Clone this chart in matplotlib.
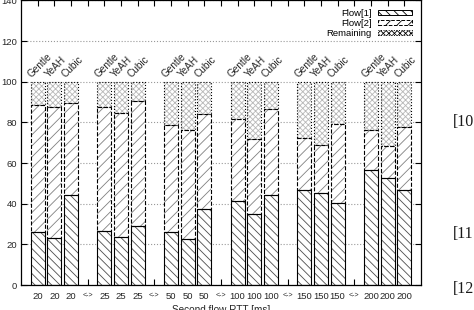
import matplotlib.pyplot as plt
from matplotlib.patches import Patch

plt.rcParams['font.family'] = ['Liberation Sans', 'DejaVu Sans']
plt.rcParams['hatch.linewidth'] = 0.6

rtts = ["20", "25", "50", "100", "150", "200"]
algos = ["Gentle", "YeAH", "Cubic"]

# share of link capacity (%), one row per RTT group, columns Gentle/YeAH/Cubic
flow1 = [
    [26.0, 23.1, 44.5],
    [26.8, 23.6, 29.1],
    [25.9, 22.6, 37.5],
    [41.1, 35.0, 44.1],
    [46.9, 45.4, 40.4],
    [56.8, 52.7, 46.7],
]
# top of flow[2] (flow1 + flow2)
flow12 = [
    [88.8, 87.6, 89.3],
    [87.8, 84.4, 90.3],
    [78.6, 76.1, 84.0],
    [81.9, 71.6, 86.5],
    [72.1, 68.7, 79.4],
    [76.2, 68.3, 77.7],
]
total = 100

fig = plt.figure(figsize=(4.74, 3.10), dpi=100)
ax = fig.add_axes([0.0443, 0.0806, 0.8437, 0.918])

pos = []
labels = []
x = 0
for g, r in enumerate(rtts):
    for a in range(3):
        pos.append(x)
        labels.append(r)
        x += 1
    if g < len(rtts) - 1:
        pos.append(x)
        labels.append("<->")
        x += 1

w = 0.84
styles = [
    ('\\\\\\\\', '-', '0.3'),
    ('///', '--', '0.5'),
    ('xxxxxx', ':', '0.72'),
]
for g in range(len(rtts)):
    for a in range(3):
        xp = g * 4 + a
        tops = [flow1[g][a], flow12[g][a], total]
        bottom = 0
        for top, (hatch, ls, hc) in zip(tops, styles):
            ax.bar(xp, top - bottom, w, bottom=bottom, color='white', edgecolor=hc,
                   hatch=hatch, linewidth=0, zorder=2)
            ax.bar(xp, top - bottom, w, bottom=bottom, fill=False, edgecolor='k',
                   linestyle=ls, linewidth=0.8, zorder=3)
            bottom = top
        ax.text(xp - 0.35, 102, algos[a], rotation=45, rotation_mode='anchor',
                ha='left', va='baseline', fontsize=7.2, color='0.15')

ax.set_xlim(-1, 23)
ax.set_ylim(0, 140)
ax.set_yticks(range(0, 141, 20))
ax.set_xticks(pos)
ax.set_xticklabels(labels)
for t in ax.get_xticklabels():
    t.set_fontsize(5 if t.get_text() == "<->" else 6.8)
ax.tick_params(axis='y', labelsize=6.8)
ax.tick_params(direction='in', top=True, right=True, length=4, width=0.8, pad=3,
               labelcolor='0.15')
ax.tick_params(axis='x', pad=5)
ax.yaxis.grid(True, linestyle=':', color='0.6', linewidth=0.8, zorder=0)
ax.set_axisbelow(True)
for s in ax.spines.values():
    s.set_linewidth(0.9)
ax.set_xlabel("Second flow RTT [ms]", fontsize=7.2, labelpad=3, color='0.15')

handles = [Patch(facecolor='white', edgecolor='k', hatch=h, linestyle=ls, linewidth=0.7)
           for h, ls, hc in styles]
ax.legend(handles, ["Flow[1]", "Flow[2]", "Remaining"], loc='upper right', frameon=False,
          markerfirst=False, fontsize=6.8, handlelength=3.6, handleheight=0.55,
          labelspacing=0.1, handletextpad=0.7, borderaxespad=0.5)

for txt, yy in [("[10", 122), ("[11", 234), ("[12", 289)]:
    fig.text(453 / 474, 1 - yy / 310, txt, family=['Liberation Serif', 'DejaVu Serif'],
             fontsize=11.5, va='center', ha='left', color='0.1')

fig.savefig("out.png", dpi=100)
